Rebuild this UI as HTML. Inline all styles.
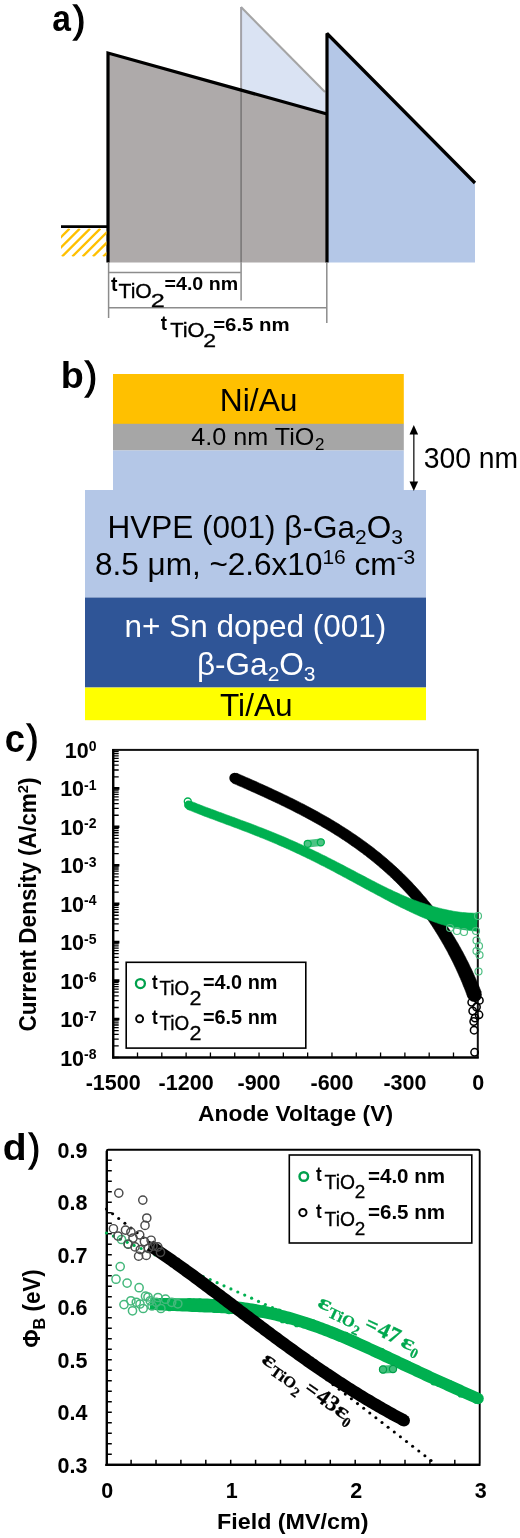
<!DOCTYPE html>
<html><head><meta charset="utf-8"><title>Figure</title><style>html,body{margin:0;padding:0;background:#fff;}svg{display:block;}</style></head><body>
<svg width="520" height="1538" viewBox="0 0 520 1538">
<rect width="520" height="1538" fill="#fff"/>
<text x="52.32" y="31.4" font-size="37" font-weight="bold" textLength="18.67" lengthAdjust="spacingAndGlyphs" font-family="'Liberation Sans', Arial, sans-serif">a</text>
<text x="73.6" y="31.5" font-size="37.1" textLength="11.56" lengthAdjust="spacingAndGlyphs" stroke="#000" stroke-width="1.5" font-family="'Liberation Sans', Arial, sans-serif">)</text>
<polygon points="108,53 327,114 327,262.5 108,262.5" fill="#AEAAAA"/>
<polygon points="241,7 325.5,92.5 325.5,114 241,88.5" fill="#DAE3F3"/>
<line x1="241" y1="7" x2="325" y2="92" stroke="#A5A5A5" stroke-width="2.1"/>
<polygon points="327,33 475,183 475,262.5 327,262.5" fill="#B4C7E7"/>
<line x1="241.1" y1="7" x2="241.1" y2="88" stroke="#A2A2A8" stroke-width="2"/>
<line x1="241.1" y1="88" x2="241.1" y2="262.5" stroke="#7A7878" stroke-width="1.6"/>
<line x1="241.1" y1="262.5" x2="241.1" y2="300.5" stroke="#8C8C8C" stroke-width="1.5"/>
<polyline points="108,262.5 108,53 327,114" fill="none" stroke="#000" stroke-width="3.2" stroke-linejoin="miter"/>
<polyline points="327,262.5 327,33.5 475,183" fill="none" stroke="#000" stroke-width="3.2" stroke-linejoin="bevel"/>
<defs><clipPath id="hc"><rect x="61" y="228.6" width="45.5" height="28"/></clipPath></defs>
<g clip-path="url(#hc)" stroke="#FFC000" stroke-width="2.3"><line x1="41.5" y1="256.6" x2="69.5" y2="228.6"/><line x1="51.8" y1="256.6" x2="79.8" y2="228.6"/><line x1="62" y1="256.6" x2="90" y2="228.6"/><line x1="72.3" y1="256.6" x2="100.3" y2="228.6"/><line x1="82.6" y1="256.6" x2="110.6" y2="228.6"/><line x1="92.9" y1="256.6" x2="120.9" y2="228.6"/><line x1="103.2" y1="256.6" x2="131.2" y2="228.6"/><line x1="113.5" y1="256.6" x2="141.5" y2="228.6"/></g>
<line x1="61" y1="226.6" x2="108" y2="226.6" stroke="#000" stroke-width="2.6"/>
<g stroke="#8C8C8C" stroke-width="1.5" fill="none"><line x1="108.6" y1="262.5" x2="108.6" y2="318"/><line x1="326.8" y1="262.5" x2="326.8" y2="323"/><line x1="108.6" y1="272.4" x2="240.8" y2="272.4"/><line x1="108.6" y1="307.8" x2="326.8" y2="307.8"/></g>
<text x="110.96" y="291.0" font-size="20.3" font-weight="bold" textLength="6.47" lengthAdjust="spacingAndGlyphs" font-family="'Liberation Sans', Arial, sans-serif">t</text>
<text x="118.54" y="298" font-size="21" textLength="33.25" lengthAdjust="spacingAndGlyphs" stroke="#000" stroke-width="0.35" font-family="'Liberation Sans', Arial, sans-serif">TiO</text>
<text x="150.73" y="307" font-size="19.2" textLength="14.04" lengthAdjust="spacingAndGlyphs" stroke="#000" stroke-width="0.3" font-family="'Liberation Sans', Arial, sans-serif">2</text>
<text x="164.59" y="290.2" font-size="18.6" font-weight="bold" textLength="73.53" lengthAdjust="spacingAndGlyphs" font-family="'Liberation Sans', Arial, sans-serif">=4.0 nm</text>
<text x="160.67" y="330.3" font-size="19.4" font-weight="bold" textLength="6.26" lengthAdjust="spacingAndGlyphs" font-family="'Liberation Sans', Arial, sans-serif">t</text>
<text x="170.22" y="337.4" font-size="20.2" textLength="34.4" lengthAdjust="spacingAndGlyphs" stroke="#000" stroke-width="0.35" font-family="'Liberation Sans', Arial, sans-serif">TiO</text>
<text x="203.34" y="347" font-size="19.2" textLength="12.82" lengthAdjust="spacingAndGlyphs" stroke="#000" stroke-width="0.3" font-family="'Liberation Sans', Arial, sans-serif">2</text>
<text x="213.15" y="330.8" font-size="18.6" font-weight="bold" textLength="76.61" lengthAdjust="spacingAndGlyphs" font-family="'Liberation Sans', Arial, sans-serif">=6.5 nm</text>
<text x="60.81" y="387.7" font-size="37" font-weight="bold" textLength="23.03" lengthAdjust="spacingAndGlyphs" font-family="'Liberation Sans', Arial, sans-serif">b</text>
<text x="85.3" y="388.6" font-size="38.3" textLength="11.56" lengthAdjust="spacingAndGlyphs" stroke="#000" stroke-width="1.5" font-family="'Liberation Sans', Arial, sans-serif">)</text>
<rect x="113" y="374" width="290.8" height="50" fill="#FFC000"/>
<rect x="113" y="423.8" width="290.8" height="26.7" fill="#A6A6A6"/>
<rect x="113" y="450.5" width="290.8" height="40" fill="#B4C7E7"/>
<rect x="85" y="490" width="341" height="107.5" fill="#B4C7E7"/>
<rect x="85" y="597.5" width="341" height="90" fill="#2F5597"/>
<rect x="85" y="687.6" width="341" height="32.6" fill="#FFFF00"/>
<text x="219.79" y="411" font-size="32" textLength="77.72" lengthAdjust="spacingAndGlyphs" font-family="'Liberation Sans', Arial, sans-serif">Ni/Au</text>
<text x="191.33" y="445.4" font-size="24.5" textLength="123.06" lengthAdjust="spacingAndGlyphs" font-family="'Liberation Sans', Arial, sans-serif">4.0 nm TiO</text>
<text x="315.14" y="449.9" font-size="15.8" textLength="9.46" lengthAdjust="spacingAndGlyphs" font-family="'Liberation Sans', Arial, sans-serif">2</text>
<line x1="413.8" y1="431" x2="413.8" y2="485" stroke="#404040" stroke-width="1.6"/>
<polygon points="413.8,425 409.5,434.5 418.1,434.5" fill="#000"/>
<polygon points="413.8,491 409.5,481.5 418.1,481.5" fill="#000"/>
<text x="423.72" y="467.9" font-size="29" textLength="94.34" lengthAdjust="spacingAndGlyphs" font-family="'Liberation Sans', Arial, sans-serif">300 nm</text>
<text x="107.5" y="537.5" font-size="31.5" font-family="'Liberation Sans', Arial, sans-serif">HVPE (001) β-Ga<tspan font-size="21" dy="6.3">2</tspan><tspan dy="-6.3">O</tspan><tspan font-size="21" dy="6.3">3</tspan></text>
<text x="95" y="575.2" font-size="31.5" font-family="'Liberation Sans', Arial, sans-serif">8.5 μm, ~2.6x10<tspan font-size="21" dy="-11">16</tspan><tspan dy="11"> cm</tspan><tspan font-size="21" dy="-11">-3</tspan></text>
<text x="124.5" y="637" font-size="31.5" fill="#fff" font-family="'Liberation Sans', Arial, sans-serif">n+ Sn doped (001)</text>
<text x="197" y="674.5" font-size="31.5" fill="#fff" font-family="'Liberation Sans', Arial, sans-serif">β-Ga<tspan font-size="21" dy="6.3">2</tspan><tspan dy="-6.3">O</tspan><tspan font-size="21" dy="6.3">3</tspan></text>
<text x="220.0" y="716.3" font-size="31.5" textLength="72.56" lengthAdjust="spacingAndGlyphs" font-family="'Liberation Sans', Arial, sans-serif">Ti/Au</text>
<text x="4.83" y="751.9" font-size="38.5" font-weight="bold" textLength="20.24" lengthAdjust="spacingAndGlyphs" font-family="'Liberation Sans', Arial, sans-serif">c</text>
<text x="27.1" y="752.4" font-size="39.2" textLength="11.18" lengthAdjust="spacingAndGlyphs" stroke="#000" stroke-width="1.5" font-family="'Liberation Sans', Arial, sans-serif">)</text>
<rect x="113.2" y="749.9" width="364.6" height="307.6" fill="none" stroke="#111" stroke-width="2"/>
<line x1="113.2" y1="749.1" x2="113.2" y2="1058.5" stroke="#000" stroke-width="2.2"/>
<line x1="112.2" y1="1057.5" x2="478.6" y2="1057.5" stroke="#000" stroke-width="2.2"/>
<path d="M113.2 788.35h5.5 M113.2 776.78h5.5 M113.2 770.00h5.5 M113.2 765.20h5.5 M113.2 761.47h5.5 M113.2 758.43h5.5 M113.2 755.86h5.5 M113.2 753.63h5.5 M113.2 751.66h5.5 M113.2 826.80h5.5 M113.2 815.23h5.5 M113.2 808.45h5.5 M113.2 803.65h5.5 M113.2 799.92h5.5 M113.2 796.88h5.5 M113.2 794.31h5.5 M113.2 792.08h5.5 M113.2 790.11h5.5 M113.2 865.25h5.5 M113.2 853.68h5.5 M113.2 846.90h5.5 M113.2 842.10h5.5 M113.2 838.37h5.5 M113.2 835.33h5.5 M113.2 832.76h5.5 M113.2 830.53h5.5 M113.2 828.56h5.5 M113.2 903.70h5.5 M113.2 892.13h5.5 M113.2 885.35h5.5 M113.2 880.55h5.5 M113.2 876.82h5.5 M113.2 873.78h5.5 M113.2 871.21h5.5 M113.2 868.98h5.5 M113.2 867.01h5.5 M113.2 942.15h5.5 M113.2 930.58h5.5 M113.2 923.80h5.5 M113.2 919.00h5.5 M113.2 915.27h5.5 M113.2 912.23h5.5 M113.2 909.66h5.5 M113.2 907.43h5.5 M113.2 905.46h5.5 M113.2 980.60h5.5 M113.2 969.03h5.5 M113.2 962.25h5.5 M113.2 957.45h5.5 M113.2 953.72h5.5 M113.2 950.68h5.5 M113.2 948.11h5.5 M113.2 945.88h5.5 M113.2 943.91h5.5 M113.2 1019.05h5.5 M113.2 1007.48h5.5 M113.2 1000.70h5.5 M113.2 995.90h5.5 M113.2 992.17h5.5 M113.2 989.13h5.5 M113.2 986.56h5.5 M113.2 984.33h5.5 M113.2 982.36h5.5 M113.2 1057.50h5.5 M113.2 1045.93h5.5 M113.2 1039.15h5.5 M113.2 1034.35h5.5 M113.2 1030.62h5.5 M113.2 1027.58h5.5 M113.2 1025.01h5.5 M113.2 1022.78h5.5 M113.2 1020.81h5.5 M137.51 1057.5v-5 M161.81 1057.5v-5 M186.12 1057.5v-5 M210.43 1057.5v-5 M234.73 1057.5v-5 M259.04 1057.5v-5 M283.35 1057.5v-5 M307.65 1057.5v-5 M331.96 1057.5v-5 M356.27 1057.5v-5 M380.57 1057.5v-5 M404.88 1057.5v-5 M429.19 1057.5v-5 M453.49 1057.5v-5" stroke="#000" stroke-width="1.3" fill="none"/>
<path d="M113.2 788.35h6.2 M113.2 826.80h6.2 M113.2 865.25h6.2 M113.2 903.70h6.2 M113.2 942.15h6.2 M113.2 980.60h6.2 M113.2 1019.05h6.2" stroke="#000" stroke-width="2.6" fill="none"/>
<text x="96.5" y="757.9" font-size="21.5" font-weight="bold" text-anchor="end" font-family="'Liberation Sans', Arial, sans-serif">10<tspan font-size="14" dy="-6.5">0</tspan></text>
<text x="96.5" y="796.4" font-size="21.5" font-weight="bold" text-anchor="end" font-family="'Liberation Sans', Arial, sans-serif">10<tspan font-size="14" dy="-6.5">-1</tspan></text>
<text x="96.5" y="834.8" font-size="21.5" font-weight="bold" text-anchor="end" font-family="'Liberation Sans', Arial, sans-serif">10<tspan font-size="14" dy="-6.5">-2</tspan></text>
<text x="96.5" y="873.2" font-size="21.5" font-weight="bold" text-anchor="end" font-family="'Liberation Sans', Arial, sans-serif">10<tspan font-size="14" dy="-6.5">-3</tspan></text>
<text x="96.5" y="911.7" font-size="21.5" font-weight="bold" text-anchor="end" font-family="'Liberation Sans', Arial, sans-serif">10<tspan font-size="14" dy="-6.5">-4</tspan></text>
<text x="96.5" y="950.1" font-size="21.5" font-weight="bold" text-anchor="end" font-family="'Liberation Sans', Arial, sans-serif">10<tspan font-size="14" dy="-6.5">-5</tspan></text>
<text x="96.5" y="988.6" font-size="21.5" font-weight="bold" text-anchor="end" font-family="'Liberation Sans', Arial, sans-serif">10<tspan font-size="14" dy="-6.5">-6</tspan></text>
<text x="96.5" y="1027.0" font-size="21.5" font-weight="bold" text-anchor="end" font-family="'Liberation Sans', Arial, sans-serif">10<tspan font-size="14" dy="-6.5">-7</tspan></text>
<text x="96.5" y="1065.5" font-size="21.5" font-weight="bold" text-anchor="end" font-family="'Liberation Sans', Arial, sans-serif">10<tspan font-size="14" dy="-6.5">-8</tspan></text>
<text x="113.2" y="1089.8" font-size="21.5" font-weight="bold" text-anchor="middle" font-family="'Liberation Sans', Arial, sans-serif">-1500</text>
<text x="186.1" y="1089.8" font-size="21.5" font-weight="bold" text-anchor="middle" font-family="'Liberation Sans', Arial, sans-serif">-1200</text>
<text x="259.0" y="1089.8" font-size="21.5" font-weight="bold" text-anchor="middle" font-family="'Liberation Sans', Arial, sans-serif">-900</text>
<text x="332.0" y="1089.8" font-size="21.5" font-weight="bold" text-anchor="middle" font-family="'Liberation Sans', Arial, sans-serif">-600</text>
<text x="404.9" y="1089.8" font-size="21.5" font-weight="bold" text-anchor="middle" font-family="'Liberation Sans', Arial, sans-serif">-300</text>
<text x="478.3" y="1089.8" font-size="21.5" font-weight="bold" text-anchor="middle" font-family="'Liberation Sans', Arial, sans-serif">0</text>
<text x="198" y="1121" font-size="22.6" font-weight="bold" textLength="195" lengthAdjust="spacingAndGlyphs" font-family="'Liberation Sans', Arial, sans-serif">Anode Voltage (V)</text>
<text transform="translate(35.8,1031.5) rotate(-90)" font-size="23" font-weight="bold" font-family="'Liberation Sans', Arial, sans-serif" textLength="254" lengthAdjust="spacingAndGlyphs">Current Density (A/cm<tspan font-size="15" dy="-8">2</tspan><tspan dy="8">)</tspan></text>
<path d="M232.5 782.9 L234.4 783.8 L236.3 784.6 L238.2 785.5 L240.1 786.3 L242.1 787.1 L244.0 788.0 L245.9 788.8 L247.8 789.7 L249.7 790.5 L251.6 791.4 L253.5 792.2 L255.4 793.1 L257.3 793.9 L259.2 794.8 L261.2 795.7 L263.1 796.5 L265.0 797.4 L266.8 798.3 L268.7 799.2 L270.6 800.0 L272.5 800.9 L274.4 801.8 L276.3 802.7 L278.2 803.6 L280.1 804.5 L281.9 805.4 L283.8 806.3 L285.7 807.3 L287.6 808.2 L289.4 809.1 L291.3 810.0 L293.2 811.0 L295.0 811.9 L296.9 812.9 L298.7 813.8 L300.6 814.8 L302.4 815.8 L304.3 816.7 L306.1 817.7 L307.9 818.7 L309.8 819.7 L311.6 820.7 L313.4 821.7 L315.2 822.7 L317.1 823.8 L318.9 824.8 L320.7 825.8 L322.5 826.9 L324.3 827.9 L326.1 829.0 L327.8 830.1 L329.6 831.1 L331.4 832.2 L333.2 833.3 L334.9 834.4 L336.7 835.5 L338.4 836.6 L340.2 837.7 L341.9 838.9 L343.7 840.0 L345.4 841.2 L347.1 842.3 L348.8 843.5 L350.5 844.7 L352.2 845.9 L353.9 847.0 L355.6 848.2 L357.3 849.5 L359.0 850.7 L360.6 851.9 L362.3 853.1 L363.9 854.4 L365.6 855.6 L367.2 856.9 L368.9 858.2 L370.5 859.5 L372.1 860.8 L373.7 862.1 L375.3 863.4 L376.9 864.7 L378.5 866.0 L380.0 867.4 L381.6 868.7 L383.1 870.1 L384.7 871.5 L386.2 872.8 L387.7 874.2 L389.3 875.6 L390.8 877.0 L392.3 878.5 L393.8 879.9 L395.2 881.3 L396.7 882.8 L398.2 884.2 L399.6 885.7 L401.0 887.2 L402.5 888.7 L403.9 890.2 L405.3 891.7 L406.7 893.2 L408.1 894.7 L409.5 896.2 L410.8 897.8 L412.2 899.3 L413.5 900.9 L414.9 902.5 L416.2 904.1 L417.5 905.7 L418.7 907.3 L420.0 908.9 L421.3 910.6 L422.5 912.2 L423.7 913.9 L424.9 915.6 L426.1 917.2 L427.3 918.9 L428.5 920.6 L429.7 922.3 L430.8 924.0 L432.0 925.7 L433.1 927.5 L434.2 929.2 L435.3 930.9 L436.4 932.7 L437.5 934.4 L438.6 936.2 L439.6 938.0 L440.7 939.8 L441.7 941.5 L442.7 943.3 L443.8 945.1 L444.8 946.9 L445.8 948.7 L446.8 950.5 L447.8 952.3 L448.7 954.2 L449.7 956.0 L450.6 957.8 L451.6 959.7 L452.5 961.5 L453.4 963.3 L454.3 965.2 L455.2 967.1 L456.1 968.9 L456.9 970.8 L457.8 972.7 L458.6 974.5 L459.4 976.4 L460.3 978.3 L461.1 980.2 L461.9 982.1 L462.7 984.0 L463.4 985.9 L464.2 987.8 L465.0 989.7 L465.7 991.6 L466.4 993.5 L467.1 995.4 L467.9 997.4 L481.3 992.2 L480.5 990.3 L479.7 988.3 L478.9 986.3 L478.1 984.4 L477.3 982.4 L476.4 980.5 L475.6 978.5 L474.7 976.6 L473.8 974.6 L473.0 972.7 L472.1 970.7 L471.2 968.8 L470.2 966.9 L469.3 964.9 L468.4 963.0 L467.4 961.1 L466.4 959.2 L465.5 957.3 L464.5 955.4 L463.5 953.5 L462.5 951.6 L461.4 949.7 L460.4 947.8 L459.3 945.9 L458.3 944.1 L457.2 942.2 L456.1 940.4 L455.0 938.5 L453.9 936.7 L452.8 934.9 L451.6 933.1 L450.4 931.2 L449.3 929.5 L448.1 927.7 L446.9 925.9 L445.6 924.1 L444.4 922.4 L443.2 920.6 L441.9 918.9 L440.7 917.1 L439.4 915.4 L438.1 913.7 L436.8 912.0 L435.5 910.3 L434.2 908.6 L432.9 906.9 L431.5 905.2 L430.2 903.6 L428.8 901.9 L427.4 900.3 L426.1 898.6 L424.7 897.0 L423.3 895.4 L421.9 893.8 L420.5 892.1 L419.1 890.5 L417.7 888.9 L416.2 887.3 L414.8 885.8 L413.3 884.2 L411.9 882.6 L410.4 881.1 L408.9 879.6 L407.4 878.0 L405.9 876.5 L404.4 875.0 L402.9 873.5 L401.3 872.0 L399.8 870.5 L398.2 869.1 L396.7 867.6 L395.1 866.2 L393.5 864.8 L391.9 863.3 L390.3 861.9 L388.7 860.5 L387.1 859.1 L385.5 857.7 L383.9 856.4 L382.2 855.0 L380.6 853.6 L378.9 852.3 L377.2 851.0 L375.6 849.7 L373.9 848.3 L372.2 847.0 L370.5 845.7 L368.8 844.5 L367.1 843.2 L365.4 841.9 L363.6 840.7 L361.9 839.4 L360.2 838.2 L358.4 837.0 L356.7 835.8 L354.9 834.6 L353.1 833.4 L351.4 832.2 L349.6 831.0 L347.8 829.8 L346.0 828.7 L344.2 827.5 L342.4 826.4 L340.6 825.3 L338.8 824.1 L337.0 823.0 L335.2 821.9 L333.4 820.8 L331.5 819.7 L329.7 818.6 L327.9 817.6 L326.0 816.5 L324.2 815.5 L322.3 814.4 L320.5 813.4 L318.6 812.3 L316.8 811.3 L314.9 810.3 L313.0 809.3 L311.2 808.3 L309.3 807.3 L307.4 806.3 L305.5 805.3 L303.7 804.3 L301.8 803.4 L299.9 802.4 L298.0 801.4 L296.1 800.5 L294.2 799.5 L292.3 798.6 L290.4 797.7 L288.5 796.7 L286.6 795.8 L284.7 794.9 L282.8 794.0 L280.9 793.1 L279.0 792.2 L277.1 791.3 L275.2 790.4 L273.2 789.5 L271.3 788.6 L269.4 787.7 L267.5 786.8 L265.6 786.0 L263.6 785.1 L261.7 784.2 L259.8 783.4 L257.9 782.5 L256.0 781.6 L254.0 780.8 L252.1 779.9 L250.2 779.1 L248.3 778.2 L246.3 777.4 L244.4 776.6 L242.5 775.7 L240.6 774.9 L238.6 774.0 L236.7 773.2Z" fill="#000" stroke="#000" stroke-width="0.6" stroke-linejoin="round"/>
<circle cx="234.6" cy="778.1" r="5.3" fill="#000"/>
<circle cx="474.6" cy="994.8" r="7.2" fill="#000"/>
<g fill="none" stroke="#000" stroke-width="1.5"><circle cx="471.7" cy="1002.3" r="3.7"/><circle cx="479.4" cy="1000.4" r="3.7"/><circle cx="472.7" cy="1011" r="3.7"/><circle cx="479" cy="1014.8" r="3.7"/><circle cx="473.7" cy="1021.5" r="3.7"/><circle cx="476.5" cy="1007" r="3.7"/><circle cx="475" cy="1018" r="3.7"/><circle cx="474.1" cy="1030.2" r="3.7"/><circle cx="474.6" cy="1052.3" r="3.7"/></g>
<path d="M186.8 809.1 L188.7 809.9 L190.5 810.6 L192.3 811.3 L194.1 812.1 L196.0 812.8 L197.8 813.5 L199.6 814.2 L201.5 814.9 L203.3 815.7 L205.2 816.4 L207.0 817.1 L208.8 817.8 L210.7 818.5 L212.5 819.1 L214.4 819.8 L216.2 820.5 L218.1 821.2 L220.0 821.9 L221.8 822.6 L223.7 823.3 L225.5 824.0 L227.4 824.7 L229.2 825.3 L231.1 826.0 L232.9 826.7 L234.8 827.4 L236.6 828.1 L238.5 828.8 L240.3 829.5 L242.1 830.2 L244.0 830.9 L245.8 831.6 L247.7 832.3 L249.5 833.0 L251.3 833.7 L253.2 834.5 L255.0 835.2 L256.8 835.9 L258.6 836.6 L260.4 837.4 L262.3 838.1 L264.1 838.8 L265.9 839.6 L267.7 840.3 L269.5 841.1 L271.3 841.8 L273.1 842.6 L274.9 843.3 L276.7 844.1 L278.5 844.9 L280.3 845.7 L282.1 846.4 L283.9 847.2 L285.6 848.0 L287.4 848.8 L289.2 849.6 L291.0 850.4 L292.7 851.2 L294.5 852.1 L296.3 852.9 L298.1 853.7 L299.8 854.5 L301.6 855.4 L303.3 856.2 L305.1 857.0 L306.8 857.9 L308.6 858.7 L310.3 859.6 L312.1 860.5 L313.8 861.3 L315.6 862.2 L317.3 863.1 L319.1 864.0 L320.8 864.9 L322.5 865.7 L324.3 866.6 L326.0 867.5 L327.8 868.4 L329.5 869.3 L331.2 870.2 L333.0 871.1 L334.7 872.1 L336.4 873.0 L338.1 873.9 L339.9 874.8 L341.6 875.7 L343.3 876.7 L345.1 877.6 L346.8 878.5 L348.5 879.5 L350.3 880.4 L352.0 881.3 L353.7 882.3 L355.5 883.2 L357.2 884.2 L358.9 885.1 L360.7 886.1 L362.4 887.0 L364.1 887.9 L365.9 888.9 L367.6 889.8 L369.4 890.8 L371.1 891.7 L372.9 892.6 L374.6 893.6 L376.4 894.5 L378.1 895.4 L379.9 896.3 L381.6 897.3 L383.4 898.2 L385.1 899.2 L386.9 900.1 L388.6 901.0 L390.4 902.0 L392.2 902.9 L394.0 903.8 L395.7 904.7 L397.5 905.6 L399.3 906.5 L401.1 907.4 L402.9 908.2 L404.7 909.1 L406.5 910.0 L408.3 910.8 L410.1 911.7 L412.0 912.6 L413.8 913.4 L415.6 914.3 L417.4 915.1 L419.3 915.9 L421.1 916.7 L423.0 917.5 L424.8 918.3 L426.7 919.0 L428.6 919.8 L430.5 920.5 L432.4 921.2 L434.3 921.9 L436.2 922.6 L438.1 923.3 L440.1 923.9 L442.0 924.5 L444.0 925.1 L445.9 925.7 L447.9 926.2 L449.9 926.7 L451.9 927.2 L453.9 927.7 L455.9 928.2 L458.0 928.6 L460.0 929.0 L462.1 929.4 L464.1 929.7 L466.2 930.0 L468.3 930.3 L470.4 930.6 L472.5 930.8 L474.6 931.0 L476.7 931.2 L477.4 913.2 L475.4 913.2 L473.6 913.2 L471.7 913.1 L469.9 913.0 L468.0 912.9 L466.2 912.8 L464.3 912.6 L462.5 912.5 L460.7 912.3 L458.8 912.0 L457.0 911.8 L455.1 911.5 L453.3 911.2 L451.5 910.8 L449.6 910.5 L447.8 910.1 L446.0 909.7 L444.1 909.3 L442.3 908.9 L440.5 908.4 L438.6 908.0 L436.8 907.5 L435.0 907.0 L433.1 906.5 L431.3 905.9 L429.5 905.4 L427.7 904.8 L425.8 904.2 L424.0 903.6 L422.2 903.0 L420.4 902.4 L418.6 901.7 L416.8 901.1 L415.0 900.4 L413.1 899.7 L411.3 899.0 L409.6 898.3 L407.8 897.5 L406.0 896.8 L404.2 896.0 L402.4 895.2 L400.6 894.4 L398.9 893.6 L397.1 892.8 L395.3 892.0 L393.5 891.2 L391.8 890.3 L390.0 889.5 L388.2 888.7 L386.5 887.8 L384.7 886.9 L382.9 886.1 L381.2 885.2 L379.4 884.3 L377.7 883.4 L375.9 882.5 L374.2 881.6 L372.4 880.7 L370.7 879.8 L369.0 878.9 L367.2 878.0 L365.5 877.0 L363.7 876.1 L362.0 875.2 L360.2 874.3 L358.5 873.4 L356.7 872.5 L355.0 871.5 L353.2 870.6 L351.5 869.7 L349.8 868.8 L348.0 867.9 L346.3 867.0 L344.5 866.0 L342.8 865.1 L341.0 864.2 L339.3 863.3 L337.5 862.4 L335.8 861.5 L334.0 860.6 L332.2 859.7 L330.5 858.8 L328.7 857.9 L327.0 857.0 L325.2 856.1 L323.4 855.3 L321.7 854.4 L319.9 853.5 L318.1 852.6 L316.3 851.8 L314.6 850.9 L312.8 850.1 L311.0 849.2 L309.2 848.4 L307.4 847.5 L305.7 846.7 L303.9 845.9 L302.1 845.0 L300.3 844.2 L298.5 843.4 L296.7 842.6 L294.9 841.8 L293.1 841.0 L291.3 840.2 L289.4 839.4 L287.6 838.6 L285.8 837.8 L284.0 837.0 L282.2 836.3 L280.4 835.5 L278.5 834.7 L276.7 834.0 L274.9 833.2 L273.0 832.5 L271.2 831.7 L269.4 831.0 L267.5 830.3 L265.7 829.5 L263.8 828.8 L262.0 828.1 L260.2 827.4 L258.3 826.7 L256.5 825.9 L254.6 825.2 L252.8 824.5 L250.9 823.8 L249.0 823.1 L247.2 822.4 L245.3 821.7 L243.5 821.1 L241.6 820.4 L239.8 819.7 L237.9 819.0 L236.0 818.3 L234.2 817.6 L232.3 816.9 L230.5 816.3 L228.6 815.6 L226.8 814.9 L224.9 814.2 L223.0 813.5 L221.2 812.8 L219.3 812.2 L217.5 811.5 L215.7 810.8 L213.8 810.1 L212.0 809.4 L210.1 808.7 L208.3 808.1 L206.5 807.4 L204.6 806.7 L202.8 806.0 L201.0 805.3 L199.2 804.6 L197.4 803.9 L195.6 803.1 L193.8 802.4 L192.0 801.7 L190.2 801.0Z" fill="#00B050" stroke="#00B050" stroke-width="0.6" stroke-linejoin="round"/>
<circle cx="188.5" cy="805.0" r="4.4" fill="#00B050"/>
<path d="M307.7 843.8 L320.8 842.3" stroke="#4cc384" stroke-width="7.5" stroke-linecap="round"/>
<g fill="none" stroke="#4DBF82" stroke-width="1.2"><circle cx="476.5" cy="940.5" r="3.5"/><circle cx="479" cy="946" r="3.5"/><circle cx="476.5" cy="951" r="3.5"/><circle cx="479.5" cy="955" r="3.5"/><circle cx="478.5" cy="971.5" r="3.5"/><circle cx="450" cy="928" r="3.5"/><circle cx="457" cy="931" r="3.5"/><circle cx="464" cy="932" r="3.5"/><circle cx="478" cy="916" r="3.5"/><circle cx="476" cy="931" r="3.5"/></g>
<g fill="none" stroke="#00B050" stroke-width="1.3"><circle cx="187.8" cy="801.5" r="3.5"/><circle cx="307.7" cy="843.8" r="3.5"/><circle cx="320.8" cy="842.3" r="3.5"/></g>
<rect x="126.2" y="962.3" width="179.6" height="85.8" fill="#fff" stroke="#000" stroke-width="1.6"/>
<circle cx="140.4" cy="983.6" r="4.5" fill="none" stroke="#00A04C" stroke-width="2.3"/>
<circle cx="139.6" cy="1018.8" r="3.5" fill="none" stroke="#000" stroke-width="1.9"/>
<text x="151.99" y="988.5" font-size="19.4" font-weight="bold" textLength="5.72" lengthAdjust="spacingAndGlyphs" font-family="'Liberation Sans', Arial, sans-serif">t</text>
<text x="159.59" y="995.4" font-size="19.3" textLength="29.59" lengthAdjust="spacingAndGlyphs" stroke="#000" stroke-width="0.35" font-family="'Liberation Sans', Arial, sans-serif">TiO</text>
<text x="189.52" y="1005.2" font-size="19.9" textLength="11.96" lengthAdjust="spacingAndGlyphs" stroke="#000" stroke-width="0.3" font-family="'Liberation Sans', Arial, sans-serif">2</text>
<text x="202.98" y="988.8" font-size="20" font-weight="bold" textLength="74.45" lengthAdjust="spacingAndGlyphs" font-family="'Liberation Sans', Arial, sans-serif">=4.0 nm</text>
<text x="151.99" y="1023.5" font-size="19.4" font-weight="bold" textLength="5.72" lengthAdjust="spacingAndGlyphs" font-family="'Liberation Sans', Arial, sans-serif">t</text>
<text x="159.59" y="1030.4" font-size="19.3" textLength="29.59" lengthAdjust="spacingAndGlyphs" stroke="#000" stroke-width="0.35" font-family="'Liberation Sans', Arial, sans-serif">TiO</text>
<text x="189.52" y="1040.2" font-size="19.9" textLength="11.96" lengthAdjust="spacingAndGlyphs" stroke="#000" stroke-width="0.3" font-family="'Liberation Sans', Arial, sans-serif">2</text>
<text x="202.98" y="1023.8" font-size="20" font-weight="bold" textLength="74.45" lengthAdjust="spacingAndGlyphs" font-family="'Liberation Sans', Arial, sans-serif">=6.5 nm</text>
<text x="2.7" y="1160.3" font-size="37.5" font-weight="bold" textLength="23.88" lengthAdjust="spacingAndGlyphs" font-family="'Liberation Sans', Arial, sans-serif">d</text>
<text x="28.91" y="1161.1" font-size="39.7" textLength="10.8" lengthAdjust="spacingAndGlyphs" stroke="#000" stroke-width="1.5" font-family="'Liberation Sans', Arial, sans-serif">)</text>
<rect x="106.8" y="1149.8" width="372.9" height="315.0" rx="1.5" fill="none" stroke="#000" stroke-width="1.9"/>
<line x1="106.8" y1="1150.8" x2="106.8" y2="1465.8" stroke="#000" stroke-width="2.2"/>
<line x1="105.2" y1="1464.8" x2="480.5" y2="1464.8" stroke="#000" stroke-width="2.2"/>
<path d="M106.8 1160.30h5 M106.8 1170.80h5 M106.8 1181.30h5 M106.8 1191.80h5 M106.8 1202.30h5 M106.8 1212.80h5 M106.8 1223.30h5 M106.8 1233.80h5 M106.8 1244.30h5 M106.8 1254.80h5 M106.8 1265.30h5 M106.8 1275.80h5 M106.8 1286.30h5 M106.8 1296.80h5 M106.8 1307.30h5 M106.8 1317.80h5 M106.8 1328.30h5 M106.8 1338.80h5 M106.8 1349.30h5 M106.8 1359.80h5 M106.8 1370.30h5 M106.8 1380.80h5 M106.8 1391.30h5 M106.8 1401.80h5 M106.8 1412.30h5 M106.8 1422.80h5 M106.8 1433.30h5 M106.8 1443.80h5 M106.8 1454.30h5 M131.10 1464.8v-5 M156.00 1464.8v-5 M180.90 1464.8v-5 M205.80 1464.8v-5 M230.70 1464.8v-5 M255.60 1464.8v-5 M280.50 1464.8v-5 M305.40 1464.8v-5 M330.30 1464.8v-5 M355.20 1464.8v-5 M380.10 1464.8v-5 M405.00 1464.8v-5 M429.90 1464.8v-5 M454.80 1464.8v-5" stroke="#000" stroke-width="1.5" fill="none"/>
<text x="87.5" y="1157.5" font-size="21.5" font-weight="bold" text-anchor="end" font-family="'Liberation Sans', Arial, sans-serif">0.9</text>
<text x="87.5" y="1210.0" font-size="21.5" font-weight="bold" text-anchor="end" font-family="'Liberation Sans', Arial, sans-serif">0.8</text>
<text x="87.5" y="1262.5" font-size="21.5" font-weight="bold" text-anchor="end" font-family="'Liberation Sans', Arial, sans-serif">0.7</text>
<text x="87.5" y="1315.0" font-size="21.5" font-weight="bold" text-anchor="end" font-family="'Liberation Sans', Arial, sans-serif">0.6</text>
<text x="87.5" y="1367.5" font-size="21.5" font-weight="bold" text-anchor="end" font-family="'Liberation Sans', Arial, sans-serif">0.5</text>
<text x="87.5" y="1420.0" font-size="21.5" font-weight="bold" text-anchor="end" font-family="'Liberation Sans', Arial, sans-serif">0.4</text>
<text x="87.5" y="1472.5" font-size="21.5" font-weight="bold" text-anchor="end" font-family="'Liberation Sans', Arial, sans-serif">0.3</text>
<text x="107.2" y="1497.8" font-size="21.5" font-weight="bold" text-anchor="middle" font-family="'Liberation Sans', Arial, sans-serif">0</text>
<text x="231.7" y="1497.8" font-size="21.5" font-weight="bold" text-anchor="middle" font-family="'Liberation Sans', Arial, sans-serif">1</text>
<text x="356.2" y="1497.8" font-size="21.5" font-weight="bold" text-anchor="middle" font-family="'Liberation Sans', Arial, sans-serif">2</text>
<text x="480.7" y="1497.8" font-size="21.5" font-weight="bold" text-anchor="middle" font-family="'Liberation Sans', Arial, sans-serif">3</text>
<text x="217" y="1529" font-size="22.6" font-weight="bold" textLength="151.5" lengthAdjust="spacingAndGlyphs" font-family="'Liberation Sans', Arial, sans-serif">Field (MV/cm)</text>
<text transform="translate(40.2,1347.8) rotate(-90)" font-size="23.5" font-weight="bold" font-family="'Liberation Sans', Arial, sans-serif" textLength="78.5" lengthAdjust="spacingAndGlyphs">Φ<tspan font-size="17" dy="4.4">B</tspan><tspan dy="-4.4"> (eV)</tspan></text>
<g fill="#000"><circle cx="106.5" cy="1209.0" r="1.55"/><circle cx="112.6" cy="1213.7" r="1.55"/><circle cx="118.7" cy="1218.5" r="1.55"/><circle cx="124.9" cy="1223.2" r="1.55"/><circle cx="131.0" cy="1228.0" r="1.55"/><circle cx="137.1" cy="1232.7" r="1.55"/><circle cx="143.2" cy="1237.5" r="1.55"/><circle cx="149.4" cy="1242.2" r="1.55"/><circle cx="155.5" cy="1247.0" r="1.55"/><circle cx="161.6" cy="1251.7" r="1.55"/><circle cx="167.7" cy="1256.5" r="1.55"/><circle cx="173.8" cy="1261.2" r="1.55"/><circle cx="180.0" cy="1265.9" r="1.55"/><circle cx="186.1" cy="1270.7" r="1.55"/><circle cx="192.2" cy="1275.4" r="1.55"/><circle cx="198.3" cy="1280.2" r="1.55"/><circle cx="204.5" cy="1284.9" r="1.55"/><circle cx="210.6" cy="1289.7" r="1.55"/><circle cx="216.7" cy="1294.4" r="1.55"/><circle cx="222.8" cy="1299.2" r="1.55"/><circle cx="229.0" cy="1303.9" r="1.55"/><circle cx="235.1" cy="1308.7" r="1.55"/><circle cx="241.2" cy="1313.4" r="1.55"/><circle cx="247.3" cy="1318.1" r="1.55"/><circle cx="253.4" cy="1322.9" r="1.55"/><circle cx="259.6" cy="1327.6" r="1.55"/><circle cx="265.7" cy="1332.4" r="1.55"/><circle cx="271.8" cy="1337.1" r="1.55"/><circle cx="277.9" cy="1341.9" r="1.55"/><circle cx="284.1" cy="1346.6" r="1.55"/><circle cx="290.2" cy="1351.4" r="1.55"/><circle cx="296.3" cy="1356.1" r="1.55"/><circle cx="302.4" cy="1360.8" r="1.55"/><circle cx="308.5" cy="1365.6" r="1.55"/><circle cx="314.7" cy="1370.3" r="1.55"/><circle cx="320.8" cy="1375.1" r="1.55"/><circle cx="326.9" cy="1379.8" r="1.55"/><circle cx="333.0" cy="1384.6" r="1.55"/><circle cx="339.2" cy="1389.3" r="1.55"/><circle cx="345.3" cy="1394.1" r="1.55"/><circle cx="351.4" cy="1398.8" r="1.55"/><circle cx="357.5" cy="1403.6" r="1.55"/><circle cx="363.7" cy="1408.3" r="1.55"/><circle cx="369.8" cy="1413.0" r="1.55"/><circle cx="375.9" cy="1417.8" r="1.55"/><circle cx="382.0" cy="1422.5" r="1.55"/><circle cx="388.1" cy="1427.3" r="1.55"/><circle cx="394.3" cy="1432.0" r="1.55"/><circle cx="400.4" cy="1436.8" r="1.55"/><circle cx="406.5" cy="1441.5" r="1.55"/><circle cx="412.6" cy="1446.3" r="1.55"/><circle cx="418.8" cy="1451.0" r="1.55"/><circle cx="424.9" cy="1455.8" r="1.55"/><circle cx="431.0" cy="1460.5" r="1.55"/></g>
<g fill="#00B050"><circle cx="106.5" cy="1233.0" r="1.6"/><circle cx="113.4" cy="1236.1" r="1.6"/><circle cx="120.3" cy="1239.2" r="1.6"/><circle cx="127.2" cy="1242.3" r="1.6"/><circle cx="134.1" cy="1245.4" r="1.6"/><circle cx="141.1" cy="1248.5" r="1.6"/><circle cx="148.0" cy="1251.6" r="1.6"/><circle cx="154.9" cy="1254.8" r="1.6"/><circle cx="161.8" cy="1257.9" r="1.6"/><circle cx="168.7" cy="1261.0" r="1.6"/><circle cx="175.6" cy="1264.1" r="1.6"/><circle cx="182.5" cy="1267.2" r="1.6"/><circle cx="189.4" cy="1270.3" r="1.6"/><circle cx="196.3" cy="1273.4" r="1.6"/><circle cx="203.2" cy="1276.5" r="1.6"/><circle cx="210.2" cy="1279.6" r="1.6"/><circle cx="217.1" cy="1282.7" r="1.6"/><circle cx="224.0" cy="1285.8" r="1.6"/><circle cx="230.9" cy="1288.9" r="1.6"/><circle cx="237.8" cy="1292.0" r="1.6"/><circle cx="244.7" cy="1295.1" r="1.6"/><circle cx="251.6" cy="1298.2" r="1.6"/><circle cx="258.5" cy="1301.4" r="1.6"/><circle cx="265.4" cy="1304.5" r="1.6"/><circle cx="272.4" cy="1307.6" r="1.6"/><circle cx="279.3" cy="1310.7" r="1.6"/><circle cx="286.2" cy="1313.8" r="1.6"/><circle cx="293.1" cy="1316.9" r="1.6"/><circle cx="300.0" cy="1320.0" r="1.6"/></g>
<path d="M149.7 1309.8 L152.2 1310.0 L154.7 1310.1 L157.2 1310.3 L159.6 1310.4 L162.1 1310.6 L164.6 1310.7 L167.1 1310.8 L169.6 1310.9 L172.1 1311.0 L174.6 1311.1 L177.1 1311.2 L179.6 1311.3 L182.1 1311.4 L184.6 1311.5 L187.1 1311.6 L189.5 1311.8 L192.0 1311.9 L194.5 1312.0 L197.0 1312.1 L199.5 1312.2 L201.9 1312.3 L204.4 1312.4 L206.9 1312.5 L209.3 1312.5 L211.8 1312.6 L214.3 1312.8 L216.7 1312.9 L219.2 1313.0 L221.6 1313.2 L224.1 1313.3 L226.5 1313.5 L229.0 1313.7 L231.4 1313.9 L233.9 1314.1 L236.3 1314.4 L238.7 1314.6 L241.1 1314.9 L243.6 1315.2 L246.0 1315.5 L248.4 1315.8 L250.8 1316.2 L253.2 1316.5 L255.6 1316.9 L258.0 1317.3 L260.4 1317.7 L262.8 1318.1 L265.2 1318.6 L267.6 1319.1 L270.0 1319.6 L272.3 1320.1 L274.7 1320.6 L277.1 1321.2 L279.5 1321.7 L281.8 1322.3 L284.2 1322.9 L286.5 1323.6 L288.9 1324.2 L291.2 1324.8 L293.6 1325.5 L295.9 1326.2 L298.3 1326.9 L300.6 1327.6 L302.9 1328.4 L305.2 1329.1 L307.6 1329.9 L309.9 1330.7 L312.2 1331.5 L314.5 1332.3 L316.8 1333.1 L319.1 1334.0 L321.4 1334.8 L323.7 1335.7 L326.0 1336.6 L328.3 1337.5 L330.6 1338.4 L332.9 1339.3 L335.2 1340.2 L337.5 1341.2 L339.8 1342.1 L342.0 1343.1 L344.3 1344.0 L346.6 1345.0 L348.9 1346.0 L351.1 1347.0 L353.4 1348.0 L355.7 1349.0 L358.0 1350.0 L360.2 1351.0 L362.5 1352.0 L364.7 1353.1 L367.0 1354.1 L369.3 1355.1 L371.5 1356.2 L373.8 1357.2 L376.0 1358.2 L378.3 1359.3 L380.5 1360.3 L382.8 1361.4 L385.1 1362.5 L387.3 1363.5 L389.6 1364.6 L391.8 1365.6 L394.1 1366.7 L396.3 1367.8 L398.6 1368.8 L400.8 1369.9 L403.1 1370.9 L405.3 1372.0 L407.6 1373.0 L409.8 1374.1 L412.1 1375.1 L414.3 1376.2 L416.6 1377.2 L418.9 1378.3 L421.1 1379.3 L423.4 1380.4 L425.6 1381.4 L427.9 1382.5 L430.2 1383.5 L432.4 1384.5 L434.7 1385.5 L436.9 1386.6 L439.2 1387.6 L441.5 1388.6 L443.7 1389.6 L446.0 1390.7 L448.3 1391.7 L450.6 1392.7 L452.8 1393.7 L455.1 1394.7 L457.4 1395.7 L459.7 1396.7 L462.0 1397.7 L464.2 1398.7 L466.5 1399.7 L468.8 1400.7 L471.1 1401.7 L473.4 1402.7 L475.7 1403.8 L480.3 1393.2 L478.0 1392.2 L475.7 1391.2 L473.5 1390.2 L471.2 1389.2 L468.9 1388.2 L466.6 1387.2 L464.3 1386.2 L462.1 1385.1 L459.8 1384.1 L457.5 1383.1 L455.3 1382.1 L453.0 1381.1 L450.8 1380.1 L448.5 1379.1 L446.2 1378.0 L444.0 1377.0 L441.7 1376.0 L439.5 1375.0 L437.2 1373.9 L435.0 1372.9 L432.7 1371.9 L430.5 1370.8 L428.3 1369.8 L426.0 1368.8 L423.8 1367.7 L421.5 1366.7 L419.3 1365.6 L417.0 1364.6 L414.8 1363.5 L412.6 1362.5 L410.3 1361.4 L408.1 1360.3 L405.8 1359.3 L403.6 1358.2 L401.3 1357.2 L399.1 1356.1 L396.8 1355.0 L394.6 1354.0 L392.3 1352.9 L390.1 1351.8 L387.8 1350.8 L385.5 1349.7 L383.3 1348.6 L381.0 1347.6 L378.7 1346.5 L376.5 1345.5 L374.2 1344.4 L371.9 1343.4 L369.6 1342.3 L367.4 1341.3 L365.1 1340.2 L362.8 1339.2 L360.5 1338.2 L358.2 1337.1 L355.9 1336.1 L353.6 1335.1 L351.3 1334.1 L349.0 1333.1 L346.7 1332.1 L344.4 1331.2 L342.0 1330.2 L339.7 1329.2 L337.4 1328.3 L335.0 1327.3 L332.7 1326.4 L330.3 1325.5 L328.0 1324.6 L325.6 1323.7 L323.3 1322.8 L320.9 1321.9 L318.5 1321.1 L316.2 1320.2 L313.8 1319.4 L311.4 1318.6 L309.0 1317.8 L306.6 1317.0 L304.2 1316.2 L301.8 1315.4 L299.4 1314.7 L297.0 1313.9 L294.6 1313.2 L292.2 1312.5 L289.7 1311.8 L287.3 1311.2 L284.9 1310.5 L282.4 1309.9 L280.0 1309.3 L277.5 1308.7 L275.1 1308.1 L272.6 1307.5 L270.2 1307.0 L267.7 1306.4 L265.2 1305.9 L262.7 1305.4 L260.3 1305.0 L257.8 1304.5 L255.3 1304.0 L252.8 1303.6 L250.3 1303.2 L247.8 1302.8 L245.3 1302.4 L242.8 1302.0 L240.3 1301.7 L237.8 1301.4 L235.3 1301.1 L232.7 1300.8 L230.2 1300.5 L227.7 1300.2 L225.2 1300.0 L222.7 1299.8 L220.1 1299.5 L217.6 1299.3 L215.1 1299.1 L212.6 1299.0 L210.0 1298.8 L207.5 1298.6 L205.0 1298.5 L202.5 1298.4 L199.9 1298.3 L197.4 1298.2 L194.9 1298.2 L192.4 1298.2 L189.9 1298.2 L187.4 1298.2 L184.9 1298.2 L182.4 1298.2 L179.9 1298.2 L177.4 1298.2 L174.9 1298.2 L172.4 1298.2 L169.9 1298.1 L167.5 1298.1 L165.0 1298.1 L162.5 1298.1 L160.1 1298.1 L157.7 1298.0 L155.2 1298.0 L152.8 1297.9 L150.4 1297.8Z" fill="#00B050"/>
<circle cx="478.0" cy="1398.5" r="5.8" fill="#00B050"/>
<g fill="#00B050"><circle cx="169.5" cy="1308.7" r="2.6"/><circle cx="173.4" cy="1301.3" r="3.0"/><circle cx="179.5" cy="1301.8" r="2.8"/><circle cx="184.9" cy="1307.7" r="3.3"/><circle cx="189.4" cy="1301.4" r="3.3"/><circle cx="193.6" cy="1301.5" r="2.9"/><circle cx="199.9" cy="1301.7" r="3.1"/><circle cx="205.1" cy="1301.8" r="2.9"/><circle cx="210.0" cy="1302.1" r="2.9"/><circle cx="214.6" cy="1309.8" r="3.2"/><circle cx="220.5" cy="1309.5" r="3.1"/><circle cx="224.0" cy="1303.7" r="2.9"/><circle cx="229.0" cy="1310.9" r="3.3"/><circle cx="233.6" cy="1304.1" r="2.8"/><circle cx="240.9" cy="1311.6" r="2.7"/><circle cx="244.0" cy="1312.1" r="2.9"/><circle cx="248.1" cy="1312.4" r="2.8"/><circle cx="254.9" cy="1307.4" r="3.1"/><circle cx="258.8" cy="1314.3" r="3.1"/><circle cx="263.6" cy="1307.9" r="3.0"/><circle cx="269.7" cy="1315.9" r="2.7"/><circle cx="275.0" cy="1310.7" r="2.9"/><circle cx="278.7" cy="1311.8" r="3.2"/><circle cx="282.7" cy="1320.4" r="2.9"/><circle cx="287.8" cy="1321.5" r="2.8"/><circle cx="292.1" cy="1316.0" r="2.8"/><circle cx="296.7" cy="1324.4" r="2.8"/><circle cx="302.0" cy="1319.5" r="3.0"/><circle cx="307.2" cy="1320.7" r="3.0"/><circle cx="313.0" cy="1322.6" r="3.3"/><circle cx="316.2" cy="1329.0" r="2.9"/><circle cx="319.9" cy="1330.3" r="2.7"/><circle cx="326.2" cy="1328.2" r="2.7"/><circle cx="331.9" cy="1329.4" r="3.0"/><circle cx="335.5" cy="1330.8" r="2.7"/><circle cx="340.1" cy="1338.8" r="2.9"/><circle cx="345.8" cy="1334.6" r="2.9"/><circle cx="347.9" cy="1341.8" r="3.1"/><circle cx="354.1" cy="1344.0" r="3.0"/><circle cx="358.2" cy="1340.4" r="2.7"/><circle cx="362.0" cy="1342.8" r="3.1"/><circle cx="366.5" cy="1344.9" r="2.9"/><circle cx="370.9" cy="1347.5" r="3.0"/><circle cx="376.6" cy="1354.5" r="3.2"/><circle cx="381.7" cy="1351.0" r="3.1"/><circle cx="385.3" cy="1354.0" r="3.1"/><circle cx="389.7" cy="1355.3" r="2.7"/><circle cx="395.6" cy="1362.8" r="3.3"/><circle cx="397.6" cy="1364.4" r="2.9"/><circle cx="403.7" cy="1366.7" r="3.2"/><circle cx="408.3" cy="1364.2" r="3.2"/><circle cx="411.2" cy="1365.8" r="2.9"/><circle cx="415.9" cy="1368.4" r="3.2"/><circle cx="422.7" cy="1374.9" r="3.1"/><circle cx="427.2" cy="1377.5" r="3.1"/><circle cx="428.9" cy="1374.0" r="3.0"/><circle cx="433.8" cy="1382.2" r="3.2"/><circle cx="438.9" cy="1384.0" r="3.0"/><circle cx="444.8" cy="1381.5" r="3.1"/><circle cx="449.7" cy="1382.8" r="2.9"/><circle cx="452.0" cy="1384.4" r="2.8"/><circle cx="458.2" cy="1391.9" r="2.8"/><circle cx="460.7" cy="1394.4" r="3.1"/><circle cx="467.5" cy="1396.2" r="3.0"/><circle cx="471.2" cy="1392.9" r="2.6"/><circle cx="476.0" cy="1400.4" r="3.1"/></g>
<g fill="none" stroke="#45B87C" stroke-width="1.5"><circle cx="120.2" cy="1266.6" r="4.1"/><circle cx="116" cy="1279.2" r="4.1"/><circle cx="127.1" cy="1283.1" r="4.1"/><circle cx="139.1" cy="1287.7" r="4.1"/><circle cx="124" cy="1304.6" r="4.1"/><circle cx="132.5" cy="1310.8" r="4.1"/><circle cx="130.9" cy="1300.8" r="4.1"/><circle cx="136.3" cy="1302.3" r="4.1"/><circle cx="143.2" cy="1308.5" r="4.1"/><circle cx="145.5" cy="1296.2" r="4.1"/><circle cx="150.2" cy="1300.8" r="4.1"/><circle cx="156.3" cy="1302.3" r="4.1"/><circle cx="160.9" cy="1308.5" r="4.1"/><circle cx="165.5" cy="1299.2" r="4.1"/><circle cx="171.7" cy="1302.3" r="4.1"/><circle cx="177.8" cy="1303.8" r="4.1"/><circle cx="121.5" cy="1239.5" r="4.1"/><circle cx="128" cy="1244" r="4.1"/><circle cx="140" cy="1304" r="4.1"/><circle cx="152" cy="1306" r="4.1"/><circle cx="148" cy="1297" r="4.1"/><circle cx="158" cy="1297.5" r="4.1"/></g>
<path d="M383 1369.5 L393 1369" stroke="#3fbf7a" stroke-width="8" stroke-linecap="round"/>
<g fill="none" stroke="#00A04A" stroke-width="1.2"><circle cx="383" cy="1369.5" r="3.6"/><circle cx="393" cy="1369" r="3.6"/></g>
<path d="M146.6 1250.6 L148.5 1251.8 L150.3 1253.0 L152.1 1254.3 L154.0 1255.5 L155.8 1256.8 L157.6 1258.0 L159.4 1259.3 L161.2 1260.5 L163.1 1261.8 L164.9 1263.0 L166.7 1264.3 L168.5 1265.6 L170.3 1266.9 L172.1 1268.1 L173.9 1269.4 L175.7 1270.7 L177.5 1272.0 L179.2 1273.3 L181.0 1274.6 L182.8 1275.9 L184.6 1277.2 L186.4 1278.5 L188.2 1279.8 L189.9 1281.1 L191.7 1282.5 L193.5 1283.8 L195.3 1285.1 L197.1 1286.4 L198.8 1287.7 L200.6 1289.1 L202.4 1290.4 L204.2 1291.7 L205.9 1293.0 L207.7 1294.4 L209.5 1295.7 L211.3 1297.0 L213.0 1298.3 L214.8 1299.7 L216.6 1301.0 L218.3 1302.3 L220.1 1303.7 L221.9 1305.0 L223.7 1306.4 L225.4 1307.7 L227.2 1309.0 L229.0 1310.4 L230.7 1311.7 L232.5 1313.1 L234.3 1314.4 L236.1 1315.7 L237.8 1317.1 L239.6 1318.4 L241.4 1319.8 L243.1 1321.1 L244.9 1322.4 L246.7 1323.8 L248.5 1325.1 L250.3 1326.5 L252.0 1327.8 L253.8 1329.1 L255.6 1330.5 L257.4 1331.8 L259.2 1333.1 L260.9 1334.5 L262.7 1335.8 L264.5 1337.1 L266.3 1338.4 L268.1 1339.8 L269.9 1341.1 L271.7 1342.4 L273.5 1343.7 L275.3 1345.1 L277.1 1346.4 L278.9 1347.7 L280.7 1349.0 L282.5 1350.3 L284.3 1351.6 L286.1 1352.9 L287.9 1354.2 L289.7 1355.5 L291.5 1356.8 L293.3 1358.1 L295.1 1359.4 L297.0 1360.7 L298.8 1362.0 L300.6 1363.3 L302.4 1364.6 L304.2 1365.9 L306.1 1367.2 L307.9 1368.4 L309.7 1369.7 L311.6 1371.0 L313.4 1372.2 L315.3 1373.5 L317.1 1374.7 L319.0 1376.0 L320.8 1377.2 L322.7 1378.5 L324.5 1379.7 L326.4 1381.0 L328.2 1382.2 L330.1 1383.4 L332.0 1384.7 L333.8 1385.9 L335.7 1387.1 L337.6 1388.3 L339.5 1389.5 L341.3 1390.7 L343.2 1391.9 L345.1 1393.1 L347.0 1394.3 L348.9 1395.5 L350.8 1396.7 L352.7 1397.9 L354.6 1399.1 L356.5 1400.2 L358.4 1401.4 L360.3 1402.6 L362.2 1403.7 L364.2 1404.9 L366.1 1406.0 L368.0 1407.2 L369.9 1408.3 L371.9 1409.4 L373.8 1410.5 L375.7 1411.7 L377.7 1412.8 L379.6 1413.9 L381.6 1415.0 L383.5 1416.1 L385.5 1417.2 L387.4 1418.3 L389.4 1419.4 L391.4 1420.4 L393.3 1421.5 L395.3 1422.6 L397.3 1423.6 L399.2 1424.7 L401.2 1425.7 L406.9 1415.1 L404.9 1414.1 L403.0 1413.1 L401.0 1412.0 L399.1 1411.0 L397.1 1409.9 L395.2 1408.8 L393.3 1407.8 L391.4 1406.7 L389.4 1405.6 L387.5 1404.5 L385.6 1403.4 L383.7 1402.3 L381.8 1401.2 L379.9 1400.1 L378.0 1399.0 L376.1 1397.9 L374.2 1396.8 L372.3 1395.6 L370.4 1394.5 L368.5 1393.4 L366.6 1392.2 L364.7 1391.1 L362.8 1389.9 L361.0 1388.8 L359.1 1387.6 L357.2 1386.4 L355.3 1385.3 L353.5 1384.1 L351.6 1382.9 L349.8 1381.7 L347.9 1380.5 L346.0 1379.3 L344.2 1378.1 L342.3 1376.9 L340.5 1375.7 L338.7 1374.5 L336.8 1373.3 L335.0 1372.1 L333.1 1370.8 L331.3 1369.6 L329.5 1368.4 L327.6 1367.1 L325.8 1365.9 L324.0 1364.7 L322.2 1363.4 L320.3 1362.2 L318.5 1360.9 L316.7 1359.6 L314.9 1358.4 L313.1 1357.1 L311.3 1355.9 L309.5 1354.6 L307.7 1353.3 L305.9 1352.0 L304.0 1350.7 L302.2 1349.5 L300.5 1348.2 L298.7 1346.9 L296.9 1345.6 L295.1 1344.3 L293.3 1343.0 L291.5 1341.7 L289.7 1340.4 L287.9 1339.1 L286.1 1337.8 L284.3 1336.5 L282.6 1335.2 L280.8 1333.8 L279.0 1332.5 L277.2 1331.2 L275.4 1329.9 L273.7 1328.6 L271.9 1327.2 L270.1 1325.9 L268.3 1324.6 L266.6 1323.2 L264.8 1321.9 L263.0 1320.6 L261.2 1319.2 L259.5 1317.9 L257.7 1316.6 L255.9 1315.2 L254.2 1313.9 L252.4 1312.6 L250.6 1311.2 L248.9 1309.9 L247.1 1308.5 L245.3 1307.2 L243.5 1305.9 L241.8 1304.5 L240.0 1303.2 L238.2 1301.8 L236.5 1300.5 L234.7 1299.1 L232.9 1297.8 L231.2 1296.4 L229.4 1295.1 L227.6 1293.8 L225.8 1292.4 L224.1 1291.1 L222.3 1289.7 L220.5 1288.4 L218.7 1287.1 L217.0 1285.7 L215.2 1284.4 L213.4 1283.0 L211.6 1281.7 L209.8 1280.4 L208.1 1279.0 L206.3 1277.7 L204.5 1276.4 L202.7 1275.1 L200.9 1273.7 L199.1 1272.4 L197.3 1271.1 L195.5 1269.8 L193.7 1268.5 L191.9 1267.2 L190.1 1265.9 L188.3 1264.6 L186.4 1263.3 L184.6 1262.0 L182.8 1260.7 L181.0 1259.4 L179.2 1258.1 L177.3 1256.9 L175.5 1255.6 L173.7 1254.3 L171.8 1253.0 L170.0 1251.8 L168.1 1250.5 L166.3 1249.2 L164.4 1248.0 L162.6 1246.7 L160.7 1245.5 L158.9 1244.3 L157.0 1243.0 L155.1 1241.8 L153.2 1240.6Z" fill="#000"/>
<circle cx="404.0" cy="1420.4" r="6.0" fill="#000"/>
<g fill="none" stroke="#4a4a4a" stroke-width="1.45"><circle cx="118.8" cy="1193.1" r="4.1"/><circle cx="142.8" cy="1200.1" r="4.1"/><circle cx="146.8" cy="1218" r="4.1"/><circle cx="145" cy="1225.4" r="4.1"/><circle cx="113.4" cy="1228.7" r="4.1"/><circle cx="125.5" cy="1230.1" r="4.1"/><circle cx="130.9" cy="1232.1" r="4.1"/><circle cx="139.7" cy="1234.8" r="4.1"/><circle cx="128.2" cy="1244.2" r="4.1"/><circle cx="135" cy="1246.9" r="4.1"/><circle cx="144.4" cy="1241.5" r="4.1"/><circle cx="151.1" cy="1240.2" r="4.1"/><circle cx="140.3" cy="1249.6" r="4.1"/><circle cx="148.4" cy="1248.3" r="4.1"/><circle cx="157.8" cy="1246.9" r="4.1"/><circle cx="160.5" cy="1252.3" r="4.1"/><circle cx="138.6" cy="1256.2" r="4.1"/><circle cx="146.3" cy="1255.4" r="4.1"/><circle cx="133" cy="1238" r="4.1"/><circle cx="153" cy="1246" r="4.1"/><circle cx="118" cy="1236" r="4.1"/></g>
<g transform="translate(317.2,1306.5) rotate(25.5)" fill="#00A84F" stroke="#00A84F" stroke-width="0.25" font-weight="bold" font-family="'Liberation Serif', 'Times New Roman', serif"><text x="-0.83" y="0.00" font-size="21" textLength="12.95" lengthAdjust="spacingAndGlyphs">ε</text><text x="12.75" y="4.60" font-size="15.5" textLength="28.05" lengthAdjust="spacingAndGlyphs">TiO</text><text x="41.41" y="9.60" font-size="14">2</text><text x="50.90" y="0.00" font-size="22">=</text><text x="65.19" y="0.00" font-size="22.5">47</text><text x="91.17" y="0.00" font-size="21" textLength="12.95" lengthAdjust="spacingAndGlyphs">ε</text><text x="103.95" y="5.30" font-size="14.5">0</text></g>
<g transform="translate(261.3,1362.3) rotate(35)" fill="#000" stroke="#000" stroke-width="0.25" font-weight="bold" font-family="'Liberation Serif', 'Times New Roman', serif"><text x="-0.83" y="0.00" font-size="21" textLength="12.95" lengthAdjust="spacingAndGlyphs">ε</text><text x="12.75" y="4.60" font-size="15.5" textLength="28.05" lengthAdjust="spacingAndGlyphs">TiO</text><text x="41.41" y="9.60" font-size="14">2</text><text x="50.90" y="0.00" font-size="22">=</text><text x="65.19" y="0.00" font-size="22.5">43</text><text x="88.17" y="0.00" font-size="21" textLength="12.95" lengthAdjust="spacingAndGlyphs">ε</text><text x="100.45" y="5.30" font-size="14.5">0</text></g>
<rect x="289.3" y="1155" width="182.5" height="88" fill="#fff" stroke="#000" stroke-width="1.6"/>
<circle cx="303.8" cy="1176.5" r="4.3" fill="none" stroke="#00A04C" stroke-width="2.4"/>
<circle cx="302.9" cy="1212.6" r="3.6" fill="none" stroke="#000" stroke-width="2"/>
<text x="315.99" y="1181.2" font-size="19.4" font-weight="bold" textLength="5.72" lengthAdjust="spacingAndGlyphs" font-family="'Liberation Sans', Arial, sans-serif">t</text>
<text x="324.58" y="1189.2" font-size="20.9" textLength="30.32" lengthAdjust="spacingAndGlyphs" stroke="#000" stroke-width="0.35" font-family="'Liberation Sans', Arial, sans-serif">TiO</text>
<text x="354.85" y="1197.9" font-size="17.5" textLength="10.5" lengthAdjust="spacingAndGlyphs" stroke="#000" stroke-width="0.3" font-family="'Liberation Sans', Arial, sans-serif">2</text>
<text x="367.95" y="1182.8" font-size="19.8" font-weight="bold" textLength="77.13" lengthAdjust="spacingAndGlyphs" font-family="'Liberation Sans', Arial, sans-serif">=4.0 nm</text>
<text x="315.99" y="1217.8" font-size="19.4" font-weight="bold" textLength="5.72" lengthAdjust="spacingAndGlyphs" font-family="'Liberation Sans', Arial, sans-serif">t</text>
<text x="324.58" y="1225.8" font-size="20.9" textLength="30.32" lengthAdjust="spacingAndGlyphs" stroke="#000" stroke-width="0.35" font-family="'Liberation Sans', Arial, sans-serif">TiO</text>
<text x="354.85" y="1234.5" font-size="17.5" textLength="10.5" lengthAdjust="spacingAndGlyphs" stroke="#000" stroke-width="0.3" font-family="'Liberation Sans', Arial, sans-serif">2</text>
<text x="367.95" y="1219.4" font-size="19.8" font-weight="bold" textLength="77.13" lengthAdjust="spacingAndGlyphs" font-family="'Liberation Sans', Arial, sans-serif">=6.5 nm</text>
</svg>
</body></html>
